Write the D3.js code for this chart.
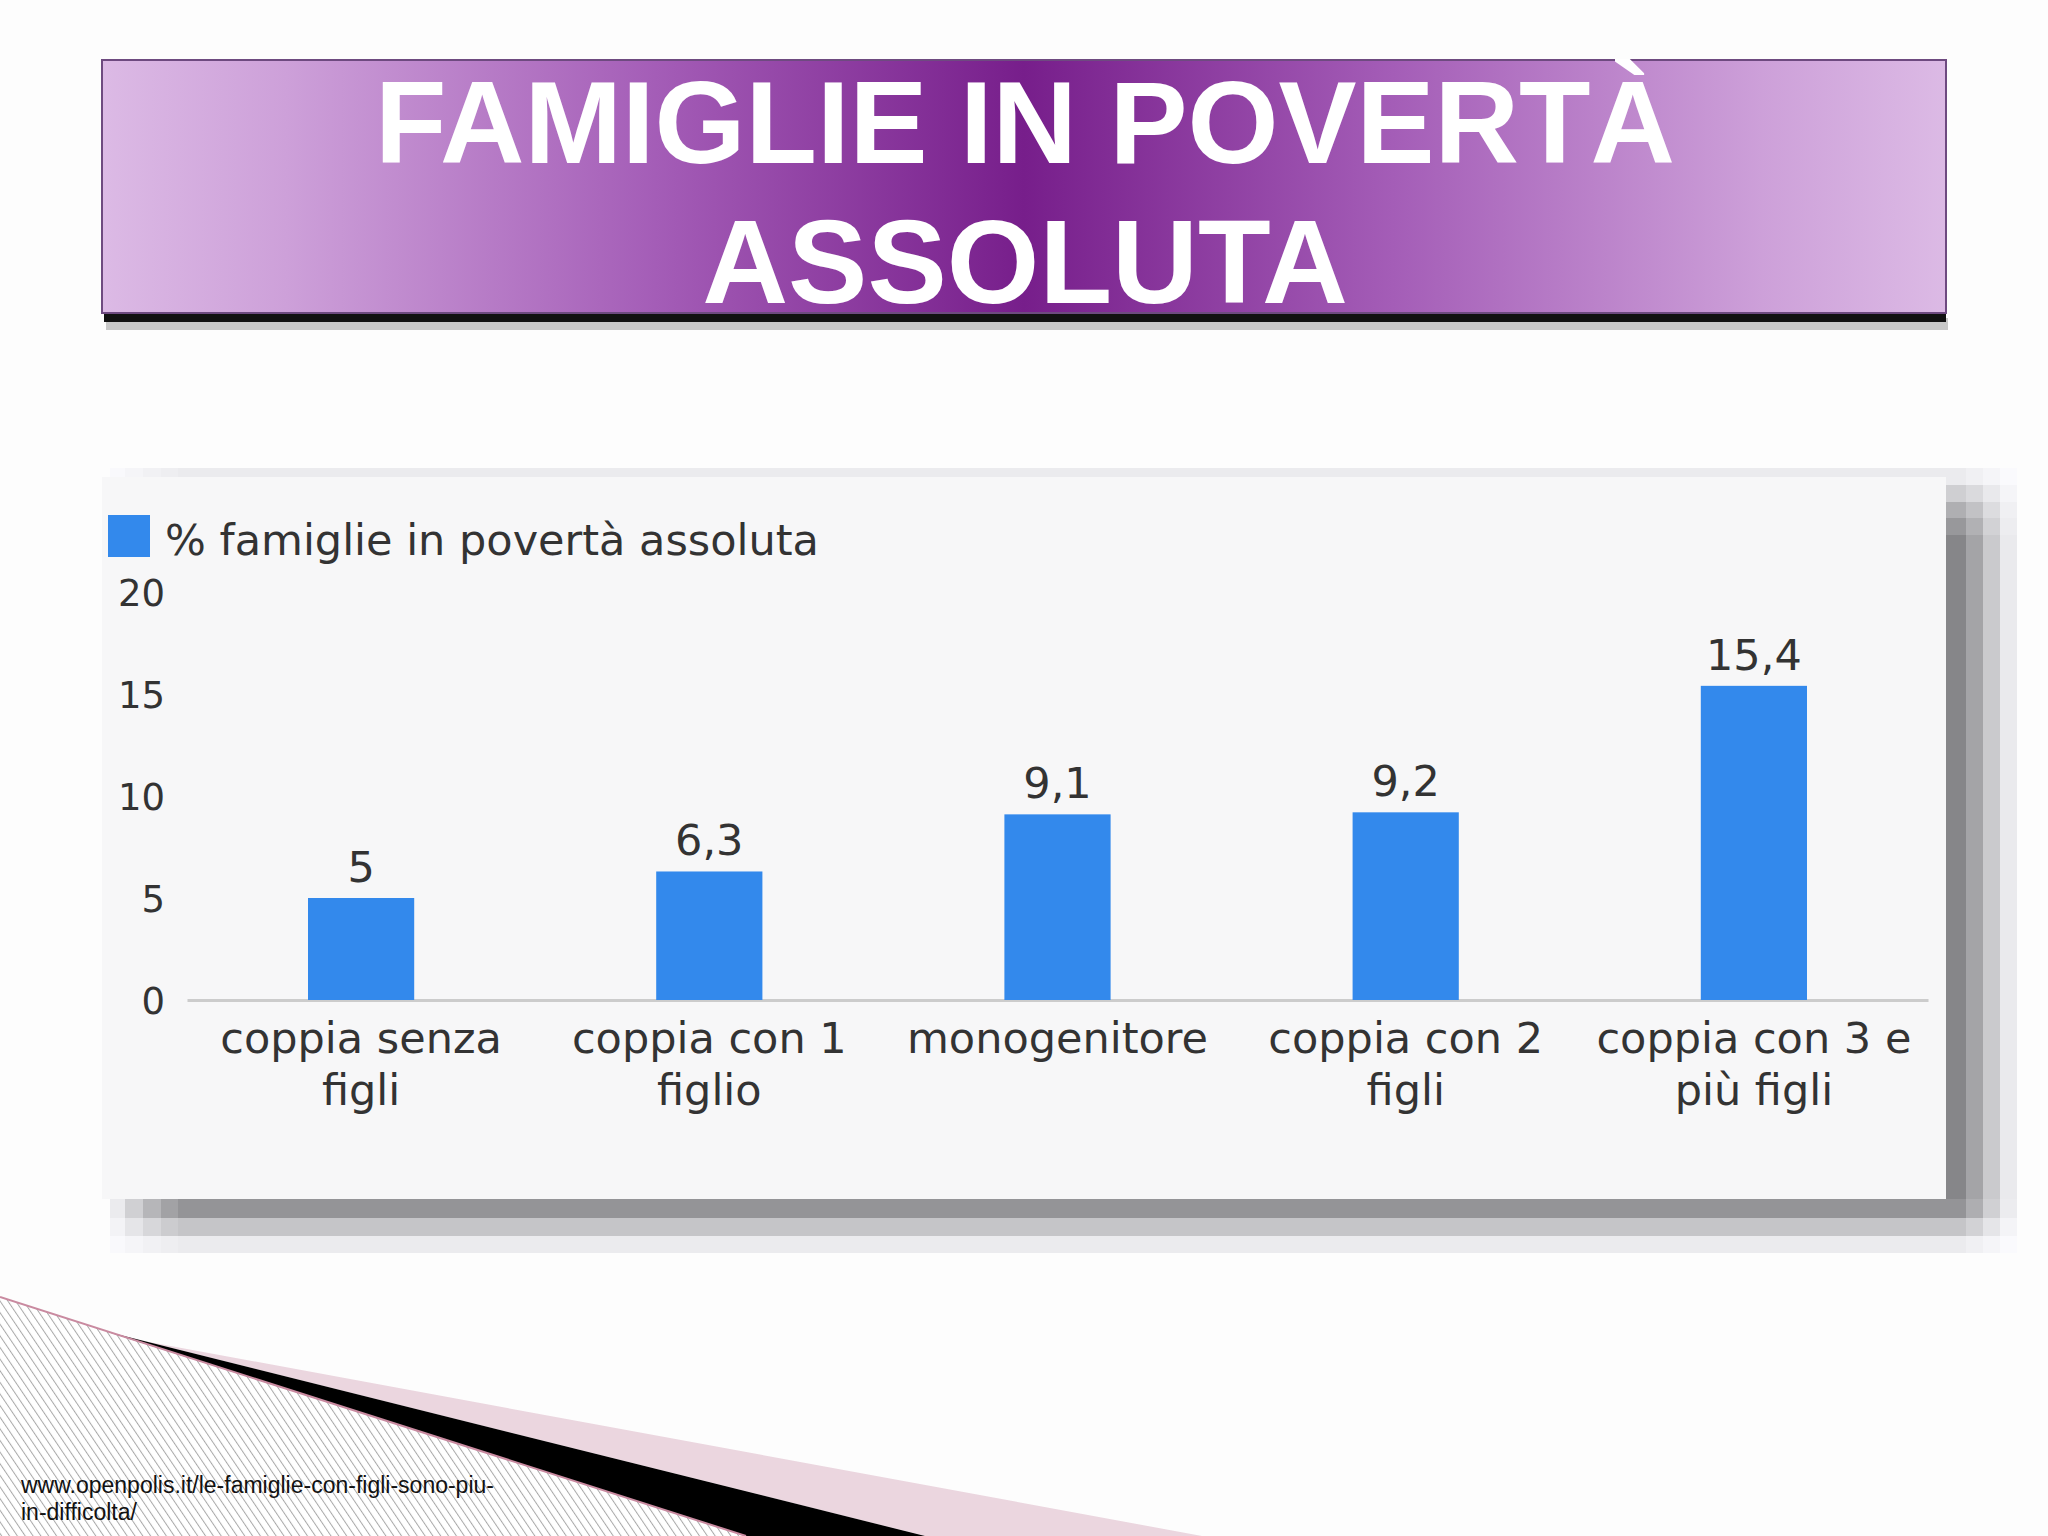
<!DOCTYPE html>
<html>
<head>
<meta charset="utf-8">
<script src="https://cdn.jsdelivr.net/npm/d3@7"></script>
<style>
  html, body { margin: 0; padding: 0; background: #fdfdfd; }
  svg { display: block; }
</style>
</head>
<body>
<svg id="slide"></svg>
<script>
// chart data
var categories = ["coppia senza figli", "coppia con 1 figlio", "monogenitore", "coppia con 2 figli", "coppia con 3 e più figli"];
var categoryLines = [["coppia senza", "figli"], ["coppia con 1", "figlio"], ["monogenitore"], ["coppia con 2", "figli"], ["coppia con 3 e", "più figli"]];
var values = [5, 6.3, 9.1, 9.2, 15.4];
var yTicks = [0, 5, 10, 15, 20];
var seriesName = "% famiglie in povertà assoluta";
var titleLines = ["FAMIGLIE IN POVERTÀ", "ASSOLUTA"];
var sourceLines = ["www.openpolis.it/le-famiglie-con-figli-sono-piu-", "in-difficolta/"];

var W = 2048, H = 1536;
var svg = d3.select("#slide").attr("width", W).attr("height", H);
var defs = svg.append("defs");

svg.append("rect").attr("width", W).attr("height", H).attr("fill", "#fdfdfd");

// ---- title banner ----
var grad = defs.append("linearGradient").attr("id", "banner").attr("x1", 0).attr("x2", 1).attr("y1", 0).attr("y2", 0);
[[0, "#dcbae5"], [0.1, "#cda0d9"], [0.3, "#a45db7"], [0.5, "#771e8b"], [0.7, "#a45db7"], [0.9, "#cda0d9"], [1, "#dcbae5"]]
  .forEach(function (s) { grad.append("stop").attr("offset", s[0]).attr("stop-color", s[1]); });

svg.append("rect").attr("x", 106).attr("y", 318).attr("width", 1842).attr("height", 12).attr("fill", "#c8c8c8");
svg.append("rect").attr("x", 104).attr("y", 311).attr("width", 1842).attr("height", 11).attr("fill", "#111");
svg.append("rect").attr("x", 102).attr("y", 60).attr("width", 1844).attr("height", 253)
  .attr("fill", "url(#banner)").attr("stroke", "#6e4a80").attr("stroke-width", 2);

svg.append("g").selectAll("text").data(titleLines).enter().append("text")
  .attr("x", 1025).attr("y", function (d, i) { return 163 + i * 140; })
  .attr("text-anchor", "middle")
  .attr("font-family", "'Liberation Sans', Arial, sans-serif")
  .attr("font-weight", "bold").attr("font-size", function (d, i) { return i ? 119 : 117; }).attr("fill", "#fff")
  .text(function (d) { return d; });

// ---- chart panel with blocky blurred shadow ----
var panel = { x0: 102, y0: 477, x1: 1946, y1: 1199 };
var shX = [110, 125, 143, 161, 178, 1946, 1966, 1983, 2000, 2017];
var shXf = [0.16, 0.42, 0.67, 0.87, 1, 1, 0.75, 0.42, 0.15];
var shY = [468, 485, 502, 518, 535, 1199, 1218, 1236, 1253];
var shYf = [0.14, 0.38, 0.65, 0.85, 1, 0.88, 0.47, 0.14];
var cells = [];
shXf.forEach(function (fx, i) {
  shYf.forEach(function (fy, j) {
    cells.push({ x: shX[i], y: shY[j], w: shX[i + 1] - shX[i], h: shY[j + 1] - shY[j], k: fx * fy });
  });
});
svg.append("g").attr("shape-rendering", "crispEdges").selectAll("rect").data(cells).enter().append("rect")
  .attr("x", function (d) { return d.x; }).attr("y", function (d) { return d.y; })
  .attr("width", function (d) { return d.w; }).attr("height", function (d) { return d.h; })
  .attr("fill", function (d) { var v = Math.round(253 - 118 * d.k); return d3.rgb(v - 1, v - 1, v + 2); });
svg.append("rect").attr("x", panel.x0).attr("y", panel.y0)
  .attr("width", panel.x1 - panel.x0).attr("height", panel.y1 - panel.y0).attr("fill", "#f7f7f8");

var chart = svg.append("g").attr("font-family", "'DejaVu Sans', sans-serif");

var x = d3.scaleBand().domain(categories).range([187, 1928]).paddingInner(0.695).paddingOuter(0.3475);
var y = d3.scaleLinear().domain([0, 20]).range([1000, 592]);

// legend
chart.append("rect").attr("x", 108).attr("y", 515).attr("width", 42).attr("height", 42).attr("fill", "#3389ec");
chart.append("text").attr("x", 165).attr("y", 555).attr("font-size", 43).attr("fill", "#333").text(seriesName);

// y axis labels
var yAxis = chart.append("g").attr("transform", "translate(165,0)")
  .call(d3.axisLeft(y).tickValues(yTicks).tickSize(0).tickPadding(0));
yAxis.select(".domain").remove();
yAxis.selectAll("text").attr("font-size", 37).attr("fill", "#333").attr("font-family", "'DejaVu Sans', sans-serif")
  .attr("dy", "0.37em");

// x axis: baseline and wrapped category labels
var xAxis = chart.append("g").attr("transform", "translate(0," + y(0) + ")")
  .call(d3.axisBottom(x).tickSize(0).tickSizeOuter(0));
xAxis.select(".domain").attr("stroke", "#cccccc").attr("stroke-width", 3);
xAxis.selectAll(".tick text").each(function (d, i) {
  var t = d3.select(this).text(null).attr("dy", null).attr("y", null)
    .attr("font-size", 43).attr("fill", "#333").attr("font-family", "'DejaVu Sans', sans-serif");
  categoryLines[i].forEach(function (line, j) {
    t.append("tspan").attr("x", 0).attr("y", 53 + j * 52).text(line);
  });
});

// bars
chart.append("g").selectAll("rect").data(values).enter().append("rect")
  .attr("x", function (d, i) { return x(categories[i]); })
  .attr("y", function (d) { return y(d); })
  .attr("width", x.bandwidth())
  .attr("height", function (d) { return y(0) - y(d); })
  .attr("fill", "#3389ec");

// value labels
chart.append("g").selectAll("text").data(values).enter().append("text")
  .attr("x", function (d, i) { return x(categories[i]) + x.bandwidth() / 2; })
  .attr("y", function (d) { return y(d) - 16; })
  .attr("text-anchor", "middle").attr("font-size", 43).attr("fill", "#333")
  .text(function (d) { return String(d).replace(".", ","); });

// ---- bottom-left decoration ----
var hatch = defs.append("pattern").attr("id", "hatch").attr("patternUnits", "userSpaceOnUse")
  .attr("width", 6.5).attr("height", 20).attr("patternTransform", "rotate(-34)");
hatch.append("rect").attr("width", 6.5).attr("height", 20).attr("fill", "#fff");
hatch.append("line").attr("x1", 0.5).attr("x2", 0.5).attr("y1", 0).attr("y2", 20).attr("stroke", "#a9a9a9").attr("stroke-width", 1);

var deco = svg.append("g");
deco.append("path").attr("d", "M0,1297 L746,1536 L0,1536 Z").attr("fill", "url(#hatch)");
deco.append("path").attr("d", "M108,1332 L149,1342 L1202,1536 L925,1536 Z").attr("fill", "#ebd6df");
deco.append("path").attr("d", "M108,1332 L925,1536 L746,1536 Z").attr("fill", "#000");
deco.append("path").attr("d", "M0,1297 L746,1536").attr("stroke", "#c98aa0").attr("stroke-width", 2).attr("fill", "none");

svg.append("g").selectAll("text").data(sourceLines).enter().append("text")
  .attr("x", 21).attr("y", function (d, i) { return 1493 + i * 27; })
  .attr("font-family", "'Liberation Sans', Arial, sans-serif").attr("font-size", 23).attr("fill", "#111")
  .text(function (d) { return d; });
</script>
</body>
</html>
